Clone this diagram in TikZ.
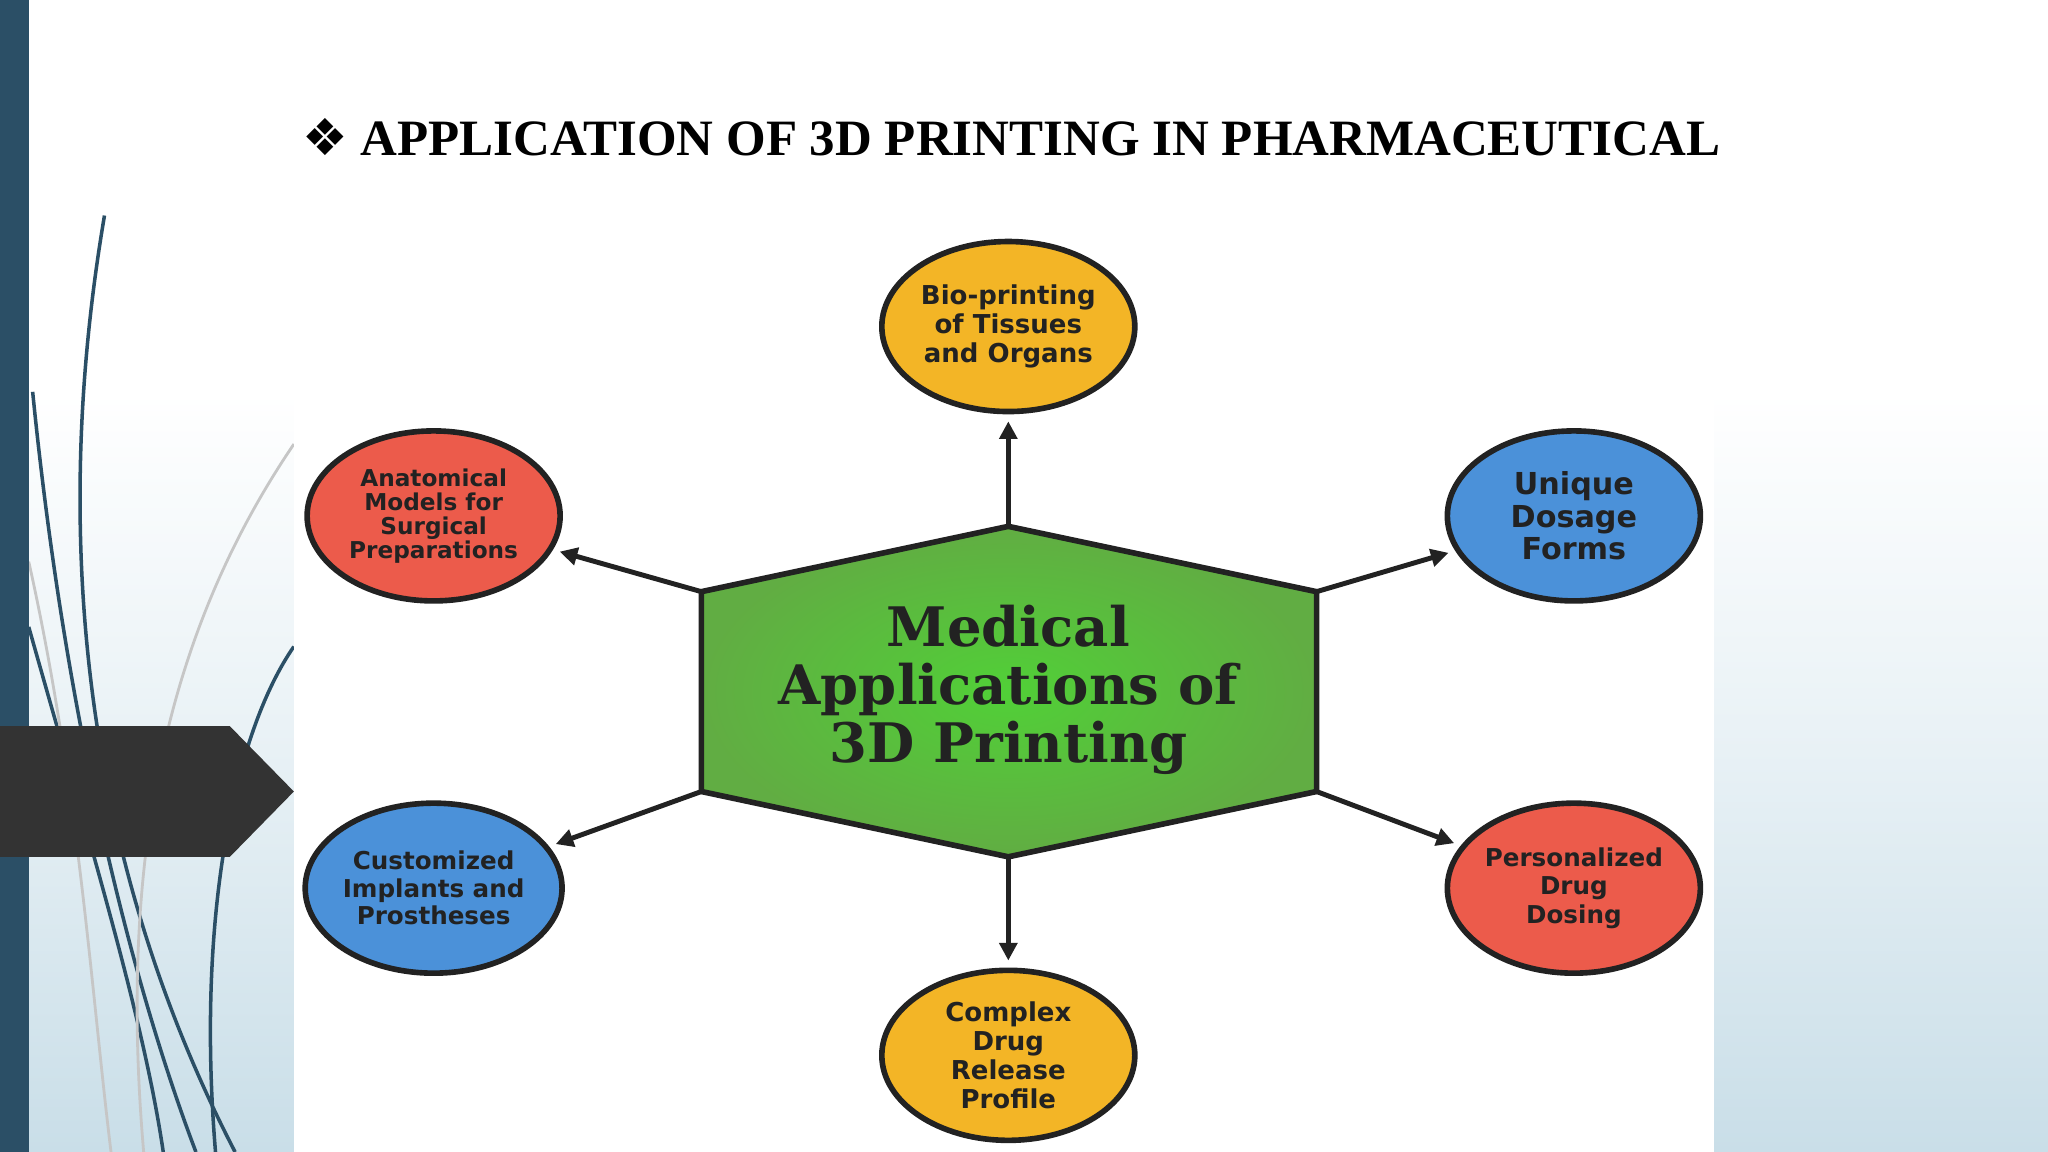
\documentclass[tikz,border=0pt]{standalone}
\usepackage{fontspec}
\setmainfont{Liberation Serif}
\newfontfamily\circfont{DejaVu Sans}
\newfontfamily\hexfont{DejaVu Serif}
\usetikzlibrary{shapes.geometric,arrows.meta}
\definecolor{barblue}{HTML}{2B4F66}
\definecolor{bgblue}{HTML}{C9DEE8}
\definecolor{hexgreen}{HTML}{6CC04A}
\definecolor{cyel}{HTML}{F3B526}
\definecolor{cred}{HTML}{EC5B4B}
\definecolor{cblue}{HTML}{4B91D9}
\definecolor{ink}{HTML}{222222}
\tikzset{
  bub/.style={ellipse,draw=ink,line width=1.6pt,minimum width=2.53cm,minimum height=1.70cm,inner sep=0pt,align=center,font=\circfont\bfseries\fontsize{7.4}{8.2}\selectfont,text=ink},
  arr/.style={-{Triangle[length=5pt,width=5pt]},line width=1.4pt,draw=ink,shorten >=2pt},
  deco/.style={line width=1pt,draw=barblue},
  decol/.style={line width=0.8pt,draw=gray!45}
}
\begin{document}
\begin{tikzpicture}[x=0.01306cm,y=-0.01306cm]
\useasboundingbox (0,0) rectangle (1568,882);
\fill[white] (0,0) rectangle (1568,300);
\shade[top color=white,bottom color=white!60!bgblue] (0,300) rectangle (1568,560);
\shade[top color=white!60!bgblue,bottom color=bgblue] (0,560) rectangle (1568,882);
% decorative curves
\draw[deco] (80,165) .. controls (40,400) and (60,650) .. (180,882);
\draw[deco] (25,300) .. controls (50,550) and (100,750) .. (150,882);
\draw[deco] (22,480) .. controls (70,650) and (110,780) .. (125,882);
\draw[decol] (225,340) .. controls (130,480) and (90,650) .. (110,882);
\draw[decol] (22,430) .. controls (60,600) and (70,760) .. (85,882);
\draw[deco] (225,495) .. controls (180,560) and (150,700) .. (165,882);
\fill[barblue] (0,0) rectangle (22,882);
\fill[white] (225,175) rectangle (1312,882);
\fill[black!80] (0,556) -- (176,556) -- (225,606) -- (176,656) -- (0,656) -- cycle;
\node[font=\bfseries\fontsize{14.5}{17}\selectfont,anchor=west] (title) at (222,105) {{\circfont ❖} APPLICATION OF 3D PRINTING IN PHARMACEUTICAL};
% hexagon
\coordinate (ht) at (772,403); \coordinate (htr) at (1008,453); \coordinate (hbr) at (1008,606);
\coordinate (hb) at (772,656); \coordinate (hbl) at (537,606); \coordinate (htl) at (537,453);
\shade[inner color=green!25!hexgreen,outer color=hexgreen!90!black] (ht)--(htr)--(hbr)--(hb)--(hbl)--(htl)--cycle;
\draw[ink,line width=1.6pt] (ht)--(htr)--(hbr)--(hb)--(hbl)--(htl)--cycle;
\node[align=center,font=\hexfont\bfseries\fontsize{15.5}{16.5}\selectfont,text=ink] (hex) at (772,528) {Medical\\Applications of\\3D Printing};
% bubbles
\node[bub,fill=cyel] (b1) at (772,250) {Bio-printing\\of Tissues\\and Organs};
\node[bub,fill=cred,font=\circfont\bfseries\fontsize{6.6}{6.8}\selectfont] (b2) at (332,395) {Anatomical\\Models for\\Surgical\\Preparations};
\node[bub,fill=cblue,font=\circfont\bfseries\fontsize{8.6}{9.3}\selectfont] (b3) at (1205,395) {Unique\\Dosage\\Forms};
\node[bub,fill=cblue,font=\circfont\bfseries\fontsize{7}{7.8}\selectfont] (b4) at (332,680) {Customized\\Implants and\\Prostheses};
\node[bub,fill=cred,font=\circfont\bfseries\fontsize{7}{8.2}\selectfont] (b5) at (1205,680) {Personalized\\Drug\\Dosing};
\node[bub,fill=cyel] (b6) at (772,808) {Complex\\Drug\\Release\\Profile};
\draw[arr] (ht) -- (b1);
\draw[arr] (htl) -- (b2);
\draw[arr] (htr) -- (b3);
\draw[arr] (hbl) -- (b4);
\draw[arr] (hbr) -- (b5);
\draw[arr] (hb) -- (b6);
\end{tikzpicture}
\end{document}
